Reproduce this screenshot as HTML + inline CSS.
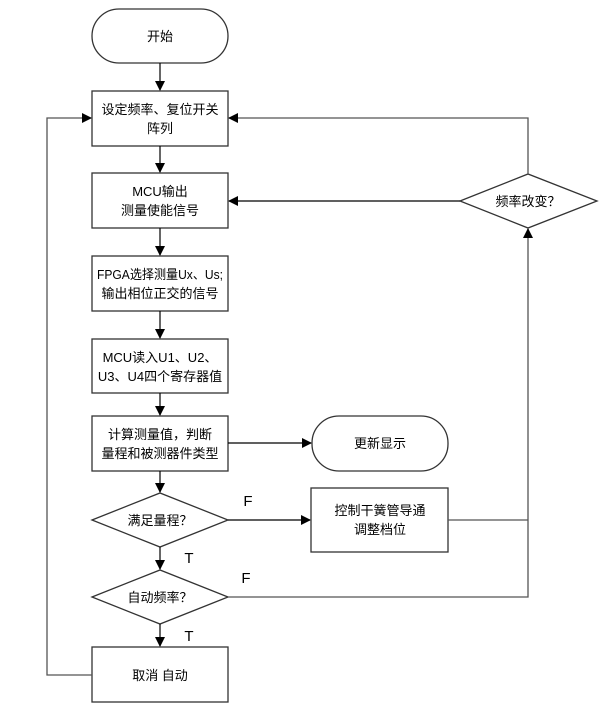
<!DOCTYPE html>
<html><head><meta charset="utf-8"><style>
body{margin:0;background:#fff;}
svg text{font-family:"Liberation Sans","Noto Sans CJK SC",sans-serif;font-size:13px;fill:#000;}
</style></head><body>
<svg width="612" height="714" viewBox="0 0 612 714" xmlns="http://www.w3.org/2000/svg">
<defs><marker id="a" markerWidth="10" markerHeight="10" refX="9" refY="5" orient="auto" markerUnits="userSpaceOnUse"><path d="M0,0 L10,5 L0,10 Z" fill="#000"/></marker></defs>
<g fill="#fff" stroke="#333" stroke-width="1.3">
<rect x="92" y="9" width="136" height="54" rx="27"/>
<rect x="92" y="91" width="136" height="55"/>
<rect x="92" y="173" width="136" height="55"/>
<rect x="92" y="256" width="136" height="55"/>
<rect x="92" y="339" width="136" height="54"/>
<rect x="92" y="416" width="136" height="55"/>
<rect x="312" y="416" width="136" height="55" rx="27"/>
<polygon points="92,520 160,493 228,520 160,547"/>
<rect x="311" y="488" width="137" height="64"/>
<polygon points="92,597 160,570 228,597 160,624"/>
<rect x="92" y="647" width="136" height="55"/>
<polygon points="460,201 528,174 597,201 528,228"/>
</g>
<g stroke="#000" stroke-width="1.2" fill="none">
<line x1="160" y1="63" x2="160" y2="90" marker-end="url(#a)"/>
<line x1="160" y1="146" x2="160" y2="172" marker-end="url(#a)"/>
<line x1="160" y1="228" x2="160" y2="255" marker-end="url(#a)"/>
<line x1="160" y1="311" x2="160" y2="338" marker-end="url(#a)"/>
<line x1="160" y1="393" x2="160" y2="415" marker-end="url(#a)"/>
<line x1="160" y1="471" x2="160" y2="492" marker-end="url(#a)"/>
<line x1="160" y1="547" x2="160" y2="569" marker-end="url(#a)"/>
<line x1="160" y1="624" x2="160" y2="646" marker-end="url(#a)"/>
<line x1="228" y1="443" x2="311" y2="443" marker-end="url(#a)"/>
<line x1="228" y1="520" x2="310" y2="520" marker-end="url(#a)"/>
<line x1="460" y1="201" x2="229" y2="201" marker-end="url(#a)"/>
</g>
<g stroke="#555" stroke-width="1.3" fill="none">
<polyline points="92,675 47,675 47,118 91,118" marker-end="url(#a)"/>
<polyline points="528,174 528,118 229,118" marker-end="url(#a)"/>
<line x1="448" y1="520" x2="528" y2="520"/>
<polyline points="228,597 528,597 528,229" marker-end="url(#a)"/>
</g>
<g text-anchor="middle">
<text x="160" y="41">开始</text>
<text x="160" y="114">设定频率、复位开关</text>
<text x="160" y="133">阵列</text>
<text x="160" y="196">MCU输出</text>
<text x="160" y="215">测量使能信号</text>
<text x="160" y="279" textLength="126" lengthAdjust="spacingAndGlyphs">FPGA选择测量Ux、Us;</text>
<text x="160" y="298">输出相位正交的信号</text>
<text x="160" y="362">MCU读入U1、U2、</text>
<text x="160" y="381">U3、U4四个寄存器值</text>
<text x="160" y="439">计算测量值，判断</text>
<text x="160" y="458">量程和被测器件类型</text>
<text x="380" y="448">更新显示</text>
<text x="160" y="525">满足量程？</text>
<text x="380" y="515">控制干簧管导通</text>
<text x="380" y="534">调整档位</text>
<text x="160" y="602">自动频率？</text>
<text x="160" y="680">取消 自动</text>
<text x="528" y="206">频率改变？</text>
<text x="248" y="506" style="font-size:15px">F</text>
<text x="189" y="563" style="font-size:15px">T</text>
<text x="246" y="583" style="font-size:15px">F</text>
<text x="189" y="641" style="font-size:15px">T</text>
</g>
</svg>
</body></html>
